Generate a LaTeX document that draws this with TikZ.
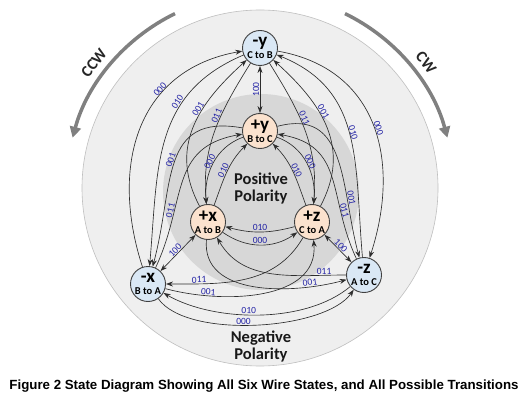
\documentclass[tikz,border=0pt]{standalone}
\usepackage{fontspec}
\setmainfont{Carlito}
\newfontfamily\titlefont{Liberation Sans}
\usetikzlibrary{arrows.meta,calc}
\definecolor{negfill}{RGB}{218,232,245}
\definecolor{posfill}{RGB}{251,226,206}
\definecolor{labblue}{RGB}{35,35,165}
\definecolor{outerbg}{RGB}{239,239,239}
\definecolor{innerbg}{RGB}{215,215,215}
\definecolor{edgecol}{RGB}{45,45,45}
\begin{document}
\begin{tikzpicture}[x=1pt,y=1pt,
  state/.style={circle,draw=black!75,line width=0.9pt,minimum size=35pt,inner sep=0pt,align=center,font=\bfseries},
  negstate/.style={state,fill=negfill},
  posstate/.style={state,fill=posfill},
  tr/.style={-{Stealth[length=7pt,width=5pt]},draw=edgecol,line width=0.65pt},
  flip/.style={{Stealth[length=7pt,width=5pt]}-{Stealth[length=7pt,width=5pt]},draw=edgecol,line width=0.65pt},
  lab/.style={font=\fontsize{9.5}{9.5}\selectfont,text=labblue,sloped,inner sep=0.6pt},
  bigarc/.style={draw=black!50,line width=3.5pt,-{Triangle[length=11pt,width=11pt]}},
  ptext/.style={font=\fontsize{16.5}{17}\selectfont\bfseries,text=black!90,align=center}
]
\useasboundingbox (0,0) rectangle (521,-403);
\fill[white] (0,0) rectangle (521,-403);
% backgrounds
\filldraw[fill=outerbg,draw=black!25,line width=0.6pt] (260,-188) circle[radius=178];
\fill[innerbg] (261,-192) circle[radius=98];
% rotation arcs
\draw[bigarc] (260,-188) ++(116:194) arc[start angle=116,end angle=165,radius=194];
\draw[bigarc] (260,-188) ++(64:194) arc[start angle=64,end angle=15,radius=194];
\node[font=\fontsize{16}{16}\selectfont\bfseries,text=black!85,rotate=52] (ccw) at ($(260,-188)+(143:208)$) {CCW};
\node[font=\fontsize{16}{16}\selectfont\bfseries,text=black!85,rotate=-52] (cw) at ($(260,-188)+(37:208)$) {CW};
% polarity texts
\node[ptext] (postext) at (261,-188) {Positive\\Polarity};
\node[ptext] (negtext) at (261,-346) {Negative\\Polarity};
% states
\node[negstate] (ny) at (260,-48) {{\fontsize{19}{13}\selectfont -y}\\{\fontsize{10.5}{10}\selectfont C to B}};
\node[posstate] (py) at (260,-131) {{\fontsize{19}{13}\selectfont +y}\\{\fontsize{10.5}{10}\selectfont B to C}};
\node[posstate] (px) at (208,-222) {{\fontsize{19}{13}\selectfont +x}\\{\fontsize{10.5}{10}\selectfont A to B}};
\node[posstate] (pz) at (312,-222) {{\fontsize{19}{13}\selectfont +z}\\{\fontsize{10.5}{10}\selectfont C to A}};
\node[negstate] (nx) at (148,-284) {{\fontsize{19}{13}\selectfont -x}\\{\fontsize{10.5}{10}\selectfont B to A}};
\node[negstate] (nz) at (364,-275) {{\fontsize{19}{13}\selectfont -z}\\{\fontsize{10.5}{10}\selectfont A to C}};
% flips
\draw[flip] (py) -- node[lab,above,pos=0.5]{100} (ny);
\draw[flip] (nx) -- node[lab,above,pos=0.5]{100} (px);
\draw[flip] (pz) -- node[lab,above,pos=0.5]{100} (nz);
% -y <-> -x
\draw[tr] (nx) to[out=108,in=190,looseness=1.15] node[lab,above,pos=0.67]{000} (ny);
\draw[tr] (ny) to[out=203,in=85,looseness=1.1] node[lab,above,pos=0.33]{010} (nx);
% -y <-> +x
\draw[tr] (px) to[out=118,in=222,looseness=1.1] node[lab,above,pos=0.62]{001} (ny);
\draw[tr] (ny) to[out=238,in=95] node[lab,above,pos=0.4]{011} (px);
% +y <-> -x
\draw[tr] (py) to[out=170,in=75,looseness=1.3] node[lab,above,pos=0.5]{001} (nx);
\draw[tr] (nx) to[out=65,in=190,looseness=1.2] node[lab,above,pos=0.3]{011} (py);
% +y <-> +x
\draw[tr] (py) to[out=200,in=95] node[lab,above,pos=0.5]{000} (px);
\draw[tr] (px) to[out=70,in=225] node[lab,above,pos=0.5]{010} (py);
% -y <-> -z
\draw[tr] (ny) to[out=-10,in=72,looseness=1.15] node[lab,above,pos=0.52]{000} (nz);
\draw[tr] (nz) to[out=95,in=-22,looseness=1.1] node[lab,above,pos=0.5]{010} (ny);
% -y <-> +z
\draw[tr] (pz) to[out=62,in=-42,looseness=1.1] node[lab,above,pos=0.6]{001} (ny);
\draw[tr] (ny) to[out=-58,in=85] node[lab,above,pos=0.42]{011} (pz);
% +y <-> +z
\draw[tr] (py) to[out=-20,in=85] node[lab,above,pos=0.5]{000} (pz);
\draw[tr] (pz) to[out=110,in=-45] node[lab,above,pos=0.5]{010} (py);
% +y <-> -z
\draw[tr] (py) to[out=15,in=105,looseness=1.2] node[lab,above,pos=0.72]{001} (nz);
\draw[tr] (nz) to[out=115,in=-10,looseness=1.2] node[lab,above,pos=0.27]{011} (py);
% +x <-> +z
\draw[tr] (pz) to[out=195,in=-15] node[lab,above,pos=0.5]{010} (px);
\draw[tr] (px) to[out=-35,in=215] node[lab,above,pos=0.5]{000} (pz);
% -x <-> -z
\draw[tr] (nz) to[out=220,in=-30,looseness=0.8] node[lab,above,pos=0.55]{010} (nx);
\draw[tr] (nx) to[out=-55,in=235,looseness=0.65] node[lab,above,pos=0.45]{000} (nz);
% +x <-> -z
\draw[tr] (px) to[out=-95,in=195] node[lab,above,pos=0.8]{001} (nz);
\draw[tr] (nz) to[out=180,in=-60] node[lab,above,pos=0.14]{011} (px);
% +z <-> -x
\draw[tr] (pz) to[out=-120,in=0] node[lab,above,pos=0.8]{011} (nx);
\draw[tr] (nx) to[out=-15,in=-85] node[lab,above,pos=0.22]{001} (pz);
% caption
\node[font=\titlefont\bfseries\fontsize{13.3}{13.3}\selectfont] (caption) at (264,-386) {Figure 2 State Diagram Showing All Six Wire States, and All Possible Transitions};
\end{tikzpicture}
\end{document}
